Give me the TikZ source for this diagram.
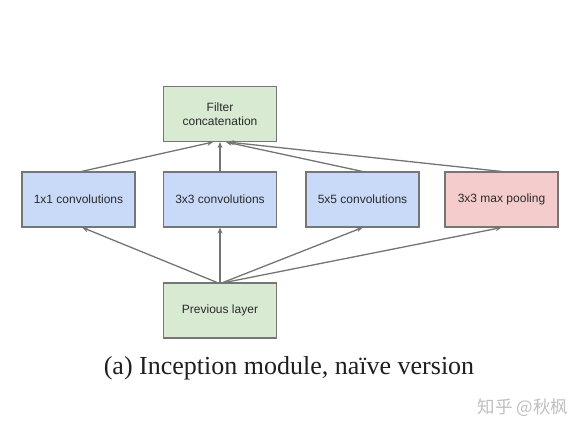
\documentclass[tikz,border=0pt]{standalone}
\usepackage{fontspec}
\setmainfont{Liberation Serif}
\newfontfamily\boxfont{Liberation Sans}
\newfontfamily\cjk{Noto Sans CJK SC}
\usetikzlibrary{arrows.meta}
\definecolor{bordergray}{HTML}{767676}
\definecolor{arrowgray}{HTML}{747474}
\definecolor{greenfill}{HTML}{D9EAD3}
\definecolor{bluefill}{HTML}{C9DAF8}
\definecolor{redfill}{HTML}{F4CCCC}
\definecolor{textgray}{HTML}{2A2A2A}
\tikzset{
  layerbox/.style={draw=bordergray, line width=1.1pt, minimum width=113pt, minimum height=55pt,
    inner sep=0pt, align=center, font=\boxfont\fontsize{12}{14.5}\selectfont, text=textgray},
  conn/.style={draw=arrowgray, line width=1.3pt, -{Stealth[length=6pt,width=5pt]}}
}
\begin{document}
\begin{tikzpicture}[x=1pt,y=-1pt]
\useasboundingbox (0,0) rectangle (585,432);
\node[layerbox, fill=greenfill] (filter) at (220,114) {Filter\\concatenation};
\node[layerbox, fill=bluefill] (c1) at (78.5,199.5) {1x1 convolutions};
\node[layerbox, fill=bluefill] (c3) at (220,199.5) {3x3 convolutions};
\node[layerbox, fill=bluefill] (c5) at (362.5,199.5) {5x5 convolutions};
\node[layerbox, fill=redfill] (mp) at (501.5,199.5) {3x3 max pooling};
\node[layerbox, fill=greenfill] (prev) at (220,310.5) {Previous layer};

\coordinate (fa) at ([xshift=-7pt]filter.south);
\coordinate (fb) at (filter.south);
\coordinate (fc) at ([xshift=6pt]filter.south);
\coordinate (fd) at ([xshift=8pt]filter.south);
\coordinate (pa) at ([xshift=-3pt]prev.north);
\coordinate (pb) at (prev.north);
\coordinate (pc) at ([xshift=3pt]prev.north);
\coordinate (pd) at ([xshift=5pt]prev.north);

\draw[conn] ([xshift=3pt]c1.north) -- (fa);
\draw[conn] (c3.north) -- (fb);
\draw[conn] (c5.north) -- (fc);
\draw[conn] (mp.north) -- (fd);

\draw[conn] (pa) -- ([xshift=4pt]c1.south);
\draw[conn] (pb) -- (c3.south);
\draw[conn] (pc) -- (c5.south);
\draw[conn] (pd) -- (mp.south);

\node[font=\fontsize{26}{30}\selectfont, text=black!88] (cap) at (289,368) {(a) Inception module, naïve version};
\node[font=\cjk\fontsize{17.5}{20}\selectfont, text=black!25] (wm) at (523,408) {知乎 @秋枫};
\end{tikzpicture}
\end{document}
